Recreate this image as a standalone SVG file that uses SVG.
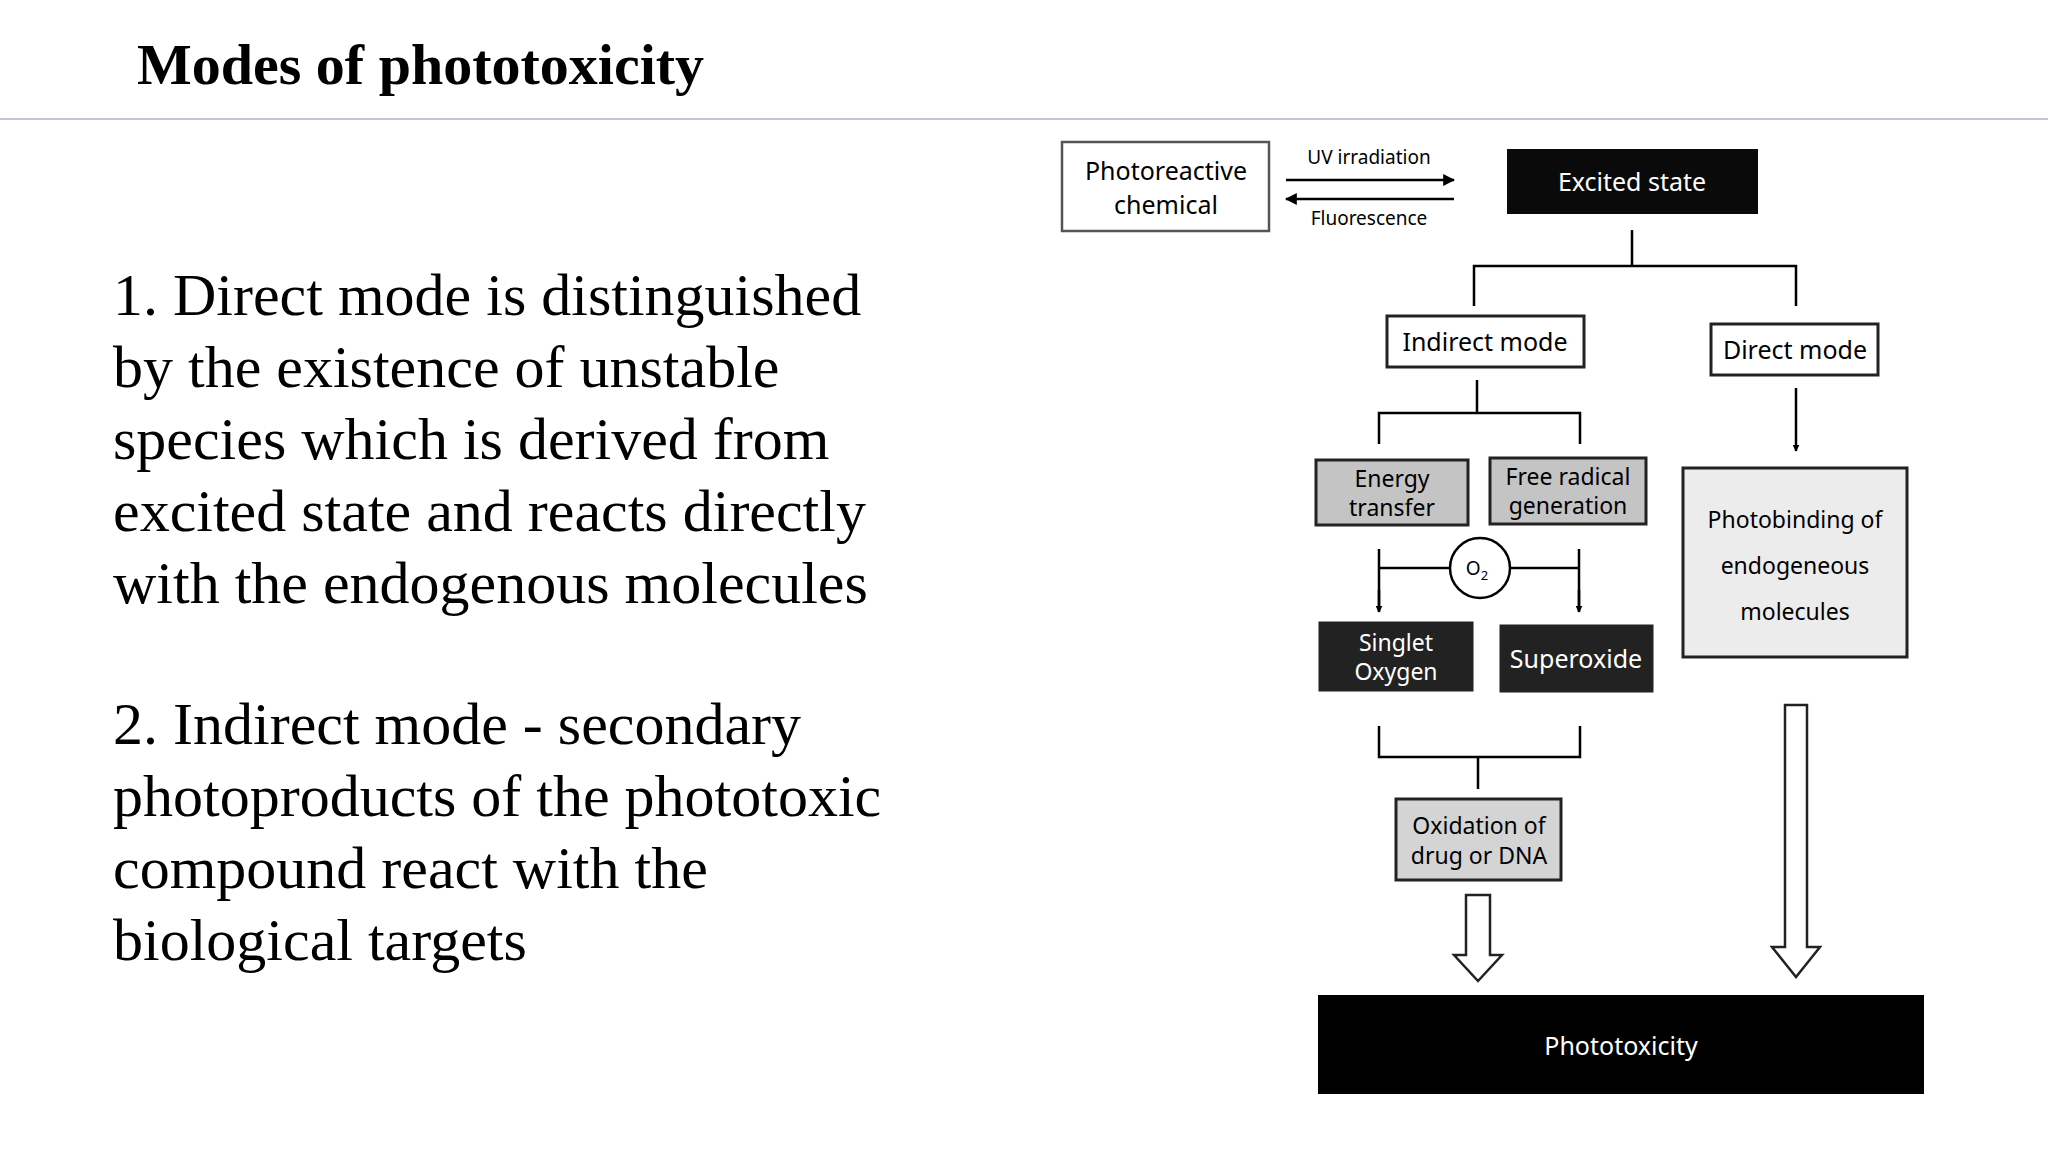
<svg xmlns="http://www.w3.org/2000/svg" width="2048" height="1152" viewBox="0 0 2048 1152">
<style>
.t{font-family:"Liberation Serif","Times New Roman",serif;font-size:60px;fill:#000}
.d{font-family:"Noto Sans","DejaVu Sans",sans-serif;font-size:25px;text-anchor:middle;fill:#000}
.m{font-size:23px}
.w{fill:#fff}
.s{font-size:19px}
.ln{stroke:#000;stroke-width:2.5;fill:none}
.bx{stroke:#222;stroke-width:3}
</style>
<defs>
<marker id="ah" viewBox="0 0 10 10" refX="9" refY="5" markerWidth="7" markerHeight="7" orient="auto" markerUnits="userSpaceOnUse"><path d="M0,0L10,5L0,10z" fill="#000"/></marker>
<marker id="ah2" viewBox="0 0 10 10" refX="9" refY="5" markerWidth="12" markerHeight="12" orient="auto" markerUnits="userSpaceOnUse"><path d="M0,0L10,5L0,10z" fill="#000"/></marker>
</defs>
<rect width="2048" height="1152" fill="#fff"/>
<text x="137" y="84" style="font-family:'Liberation Serif',serif;font-size:58px;font-weight:bold">Modes of phototoxicity</text>
<line x1="0" y1="119" x2="2048" y2="119" stroke="#a8b4c4" stroke-width="1.5"/>
<g id="text1" class="t">
<text x="113" y="315">1. Direct mode is distinguished</text>
<text x="113" y="387">by the existence of unstable</text>
<text x="113" y="459">species which is derived from</text>
<text x="113" y="531">excited state and reacts directly</text>
<text x="113" y="603">with the endogenous molecules</text>
</g>
<g id="text2" class="t">
<text x="113" y="744">2. Indirect mode - secondary</text>
<text x="113" y="816">photoproducts of the phototoxic</text>
<text x="113" y="888">compound react with the</text>
<text x="113" y="960">biological targets</text>
</g>
<g id="connectors">
<line class="ln" x1="1286" y1="180" x2="1454" y2="180" marker-end="url(#ah2)"/>
<line class="ln" x1="1454" y1="199" x2="1286" y2="199" marker-end="url(#ah2)"/>
<path class="ln" d="M1632,230V266M1474,306V266H1796V306"/>
<path class="ln" d="M1477,380V413M1379,444V413H1580V444"/>
<path class="ln" d="M1379,549V611M1379,568H1450M1579,549V611M1510,568H1579" />
<line class="ln" x1="1379" y1="590" x2="1379" y2="612" marker-end="url(#ah)"/>
<line class="ln" x1="1579" y1="590" x2="1579" y2="612" marker-end="url(#ah)"/>
<line class="ln" x1="1796" y1="388" x2="1796" y2="451" marker-end="url(#ah)"/>
<path class="ln" d="M1379,726V757H1580V726M1478,757V789"/>
<path d="M1466,895H1490V955H1502L1478,981L1454,955H1466Z" fill="#fff" stroke="#222" stroke-width="2.5"/>
<path d="M1785,705H1807V947H1820L1796,977L1772,947H1785Z" fill="#fff" stroke="#222" stroke-width="2.5"/>
</g>
<g id="photoreactive"><rect x="1062" y="142" width="207" height="89" fill="#fff" stroke="#555" stroke-width="2.5"/><text class="d" x="1166" y="180">Photoreactive</text><text class="d" x="1166" y="214">chemical</text></g>
<g id="uvlabel"><text class="d s" x="1369" y="164">UV irradiation</text></g>
<g id="fluolabel"><text class="d s" x="1369" y="225">Fluorescence</text></g>
<g id="excited"><rect x="1507" y="149" width="251" height="65" fill="#0a0a0a"/><text class="d w" x="1632" y="191">Excited state</text></g>
<g id="indirect"><rect class="bx" x="1387" y="316" width="197" height="51" fill="#fff"/><text class="d" x="1485" y="351">Indirect mode</text></g>
<g id="direct"><rect class="bx" x="1711" y="324" width="167" height="51" fill="#fff"/><text class="d" x="1795" y="359">Direct mode</text></g>
<g id="energy"><rect class="bx" x="1316" y="460" width="152" height="65" fill="#c4c4c4"/><text class="d m" x="1392" y="487">Energy</text><text class="d m" x="1392" y="516">transfer</text></g>
<g id="freeradical"><rect class="bx" x="1490" y="458" width="156" height="66" fill="#c4c4c4"/><text class="d m" x="1568" y="485">Free radical</text><text class="d m" x="1568" y="514">generation</text></g>
<g id="o2"><circle cx="1480" cy="568" r="30" fill="#fff" stroke="#000" stroke-width="2.5"/><text class="d s" x="1477" y="575">O<tspan font-size="13" dy="5">2</tspan></text></g>
<g id="singlet"><rect class="bx" x="1320" y="623" width="152" height="67" fill="#222"/><text class="d m w" x="1396" y="651">Singlet</text><text class="d m w" x="1396" y="680">Oxygen</text></g>
<g id="superoxide"><rect class="bx" x="1501" y="626" width="151" height="65" fill="#222"/><text class="d w" x="1576" y="668">Superoxide</text></g>
<g id="photobinding"><rect class="bx" x="1683" y="468" width="224" height="189" fill="#ececec"/><text class="d m" x="1795" y="528">Photobinding of</text><text class="d m" x="1795" y="574">endogeneous</text><text class="d m" x="1795" y="620">molecules</text></g>
<g id="oxidation"><rect class="bx" x="1396" y="799" width="165" height="81" fill="#d4d4d4"/><text class="d m" x="1479" y="834">Oxidation of</text><text class="d m" x="1479" y="864">drug or DNA</text></g>
<g id="phototoxicity"><rect x="1318" y="995" width="606" height="99" fill="#000"/><text class="d w" x="1621" y="1055">Phototoxicity</text></g>
</svg>
